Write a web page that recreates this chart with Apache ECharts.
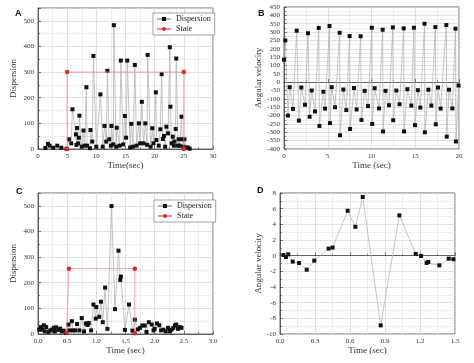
<!DOCTYPE html>
<html><head><meta charset="utf-8">
<script src="https://cdn.jsdelivr.net/npm/echarts@6/dist/echarts.min.js"></script>
<style>html,body{margin:0;padding:0;background:#fff}#c{width:474px;height:363px}</style>
</head><body><div id="c"></div>
<script>
// Panel A: dispersion over time (sec)
const A_time = [1.26,1.7,2.0,2.6,3.3,4.0,4.9,5.3,5.7,5.9,6.5,6.6,6.7,6.9,7.0,7.1,7.5,7.8,8.0,8.3,8.4,8.9,9.0,9.3,9.5,10.0,10.7,11.1,11.4,11.7,11.9,12.2,12.5,12.6,12.9,13.0,13.4,13.5,14.0,14.2,14.6,14.9,15.1,15.3,15.8,16.0,16.3,16.6,16.9,17.3,17.5,17.8,18.1,18.4,18.7,18.8,19.3,19.6,19.8,20.2,20.3,20.7,20.97,21.2,21.4,21.6,21.8,22.0,22.3,22.6,22.7,22.9,23.1,23.3,23.4,23.6,23.7,24.0,24.1,24.3,24.6,24.7,24.9,25.1,25.3,25.7,26.0];
const A_disp = [4,20,13,5,13,5,1,38,22,155,57,16,82,22,44,130,9,72,13,241,13,3,74,29,363,9,213,9,90,29,305,38,13,90,18,483,9,83,13,345,18,129,44,345,6,98,9,328,13,100,22,184,22,100,16,367,9,81,22,221,35,13,77,292,39,51,9,87,61,397,165,22,48,13,29,78,353,13,38,13,126,38,9,38,6,6,1];
const A_stateTime = [5,5,25,25];
const A_state = [0,300,300,0];

// Panel B: angular velocity over time (sec)
const B_time = [0,0.15,0.45,0.65,1.03,1.45,1.7,1.98,2.4,2.74,2.93,3.16,3.54,3.97,4.05,4.5,4.69,5.2,5.25,5.45,5.83,6.36,6.4,6.78,7.12,7.5,7.55,8.0,8.3,8.76,8.85,9.22,9.6,10.04,10.08,10.36,10.86,11.28,11.32,11.6,12.0,12.44,12.48,12.84,13.2,13.68,13.72,14.1,14.55,14.85,14.97,15.3,15.58,16.06,16.1,16.5,16.84,17.3,17.35,17.6,17.9,18.55,18.6,18.86,19.24,19.6,19.65,19.95];
const B_vel = [135,250,-200,-30,-160,308,-230,-32,-135,293,-207,-50,-175,325,-262,-57,-158,336,-245,-30,-150,296,-318,-44,-167,276,-280,-35,-163,275,-226,-52,-143,326,-250,-36,-157,314,-295,-52,-138,328,-228,-50,-132,322,-295,-42,-140,326,-257,-48,-152,350,-300,-45,-140,330,-252,-32,-158,342,-326,-45,-157,320,-355,-20];

// Panel C: dispersion over time (sec)
const C_time = [0.02,0.05,0.07,0.1,0.115,0.14,0.18,0.21,0.24,0.27,0.29,0.31,0.35,0.38,0.41,0.44,0.48,0.52,0.54,0.58,0.6,0.64,0.67,0.71,0.75,0.79,0.82,0.85,0.87,0.91,0.95,0.99,1.0,1.05,1.08,1.11,1.15,1.19,1.26,1.32,1.38,1.41,1.42,1.49,1.56,1.62,1.66,1.71,1.75,1.79,1.83,1.86,1.9,1.95,1.98,2.0,2.04,2.08,2.11,2.15,2.19,2.23,2.26,2.29,2.32,2.35,2.37,2.4,2.43,2.46];
const C_disp = [17,27,17,34,10,27,8,14,17,24,10,26,16,21,10,13,4,37,14,50,14,14,39,14,62,10,41,35,43,14,115,60,105,67,126,46,181,20,499,97,325,211,224,16,115,13,56,18,24,33,33,8,46,37,14,20,41,34,14,17,10,24,10,17,24,33,37,20,27,24];
const C_stateTime = [0.49,0.53,1.66,1.66];
const C_state = [5,255,255,3];

// Panel D: angular velocity over time (sec)
const D_time = [0.029,0.051,0.071,0.109,0.163,0.229,0.294,0.417,0.451,0.58,0.646,0.709,0.863,1.023,1.163,1.209,1.257,1.271,1.366,1.446,1.486];
const D_vel = [0.09,-0.17,0.17,-0.76,-0.93,-1.79,-0.64,0.9,1.03,5.73,3.68,7.49,-8.9,5.14,0.22,-0.04,-0.93,-0.8,-1.23,-0.38,-0.46];

const zip = (xs, ys) => xs.map((x, i) => [x, ys[i]]);
const SERIF = 'Liberation Serif';
const gridLine = {show: true, lineStyle: {color: '#d4d4d4', width: 0.7}};
const minorLine = {show: true, lineStyle: {color: '#e2e2e2', width: 0.6}};
const lbl = (extra) => Object.assign({color: '#333', fontFamily: SERIF, fontSize: 7, margin: 4}, extra || {});
function xAx(idx, max, interval, name, fmt) {
  return {type: 'value', gridIndex: idx, min: 0, max: max, interval: interval,
    name: name, nameLocation: 'middle', nameGap: 12,
    nameTextStyle: {fontFamily: SERIF, fontSize: 9, color: '#333'},
    axisLine: {show: true, lineStyle: {color: '#444', width: 0.8}},
    axisTick: {show: true, inside: true, length: 3, lineStyle: {color: '#444', width: 0.7}},
    minorTick: {show: true, splitNumber: 2, length: 2, lineStyle: {color: '#444', width: 0.6}},
    axisLabel: lbl({formatter: fmt}),
    splitLine: gridLine, minorSplitLine: minorLine};
}
function yAx(idx, min, max, interval, name, gap, minorN) {
  return {type: 'value', gridIndex: idx, min: min, max: max, interval: interval,
    name: name, nameLocation: 'middle', nameGap: gap,
    nameTextStyle: {fontFamily: SERIF, fontSize: 9, color: '#333'},
    axisLine: {show: true, lineStyle: {color: '#444', width: 0.8}},
    axisTick: {show: true, inside: true, length: 3, lineStyle: {color: '#444', width: 0.7}},
    minorTick: {show: true, splitNumber: minorN, length: 2, lineStyle: {color: '#444', width: 0.6}},
    axisLabel: lbl({showMaxLabel: (max % interval === 0)}),
    splitLine: gridLine, minorSplitLine: minorLine};
}
const dispSeries = (xi, data) => ({name: 'Dispersion', type: 'line', xAxisIndex: xi, yAxisIndex: xi,
  data: data, symbol: 'rect', symbolSize: 4, showAllSymbol: true, animation: false,
  itemStyle: {color: '#111'}, lineStyle: {color: '#b5b5b5', width: 0.8}, z: 3});
const stateSeries = (xi, data) => ({name: 'State', type: 'line', xAxisIndex: xi, yAxisIndex: xi,
  data: data, symbol: 'circle', symbolSize: 4.5, animation: false,
  itemStyle: {color: '#e4232b'}, lineStyle: {color: '#f08a8a', width: 0.8}, z: 4});
const legendCfg = (left, top) => ({data: ['Dispersion', 'State'], left: left, top: top, orient: 'vertical',
  itemWidth: 14, itemHeight: 5, itemGap: 2, padding: [2, 4, 2, 3],
  borderColor: '#666', borderWidth: 0.6, backgroundColor: '#fff',
  textStyle: {fontFamily: SERIF, fontSize: 8, color: '#222'}});
const titleCfg = (t, l, tp) => ({text: t, left: l, top: tp,
  textStyle: {fontFamily: 'Liberation Sans', fontWeight: 'bold', fontSize: 9, color: '#111'}});
const gridCfg = (l, t, w, h) => ({left: l, top: t, width: w, height: h, show: true, borderColor: '#444', borderWidth: 0.8});

const chart = echarts.init(document.getElementById('c'), null, {renderer: 'canvas'});
chart.setOption({
  animation: false,
  backgroundColor: '#fff',
  title: [titleCfg('A', 10, 4), titleCfg('B', 253, 4), titleCfg('C', 11, 182), titleCfg('D', 252, 181)],
  legend: [legendCfg(153, 13), legendCfg(154, 200)],
  grid: [gridCfg(38, 8, 175, 141), gridCfg(284, 7, 175, 142), gridCfg(38, 193, 175, 141), gridCfg(280, 193, 175, 141)],
  xAxis: [
    xAx(0, 30, 5, 'Time(sec)'),
    xAx(1, 20, 5, 'Time (sec)'),
    xAx(2, 3, 0.5, 'Time (sec)', v => v.toFixed(1)),
    xAx(3, 1.5, 0.3, 'Time (sec)', v => v.toFixed(1))
  ],
  yAxis: [
    yAx(0, 0, 550, 100, 'Dispersion', 20, 2),
    yAx(1, -400, 450, 50, 'Angular velocity', 20, 2),
    yAx(2, 0, 550, 100, 'Dispersion', 20, 2),
    yAx(3, -10, 8, 2, 'Angular velocity', 16, 2)
  ],
  series: [
    dispSeries(0, zip(A_time, A_disp)),
    stateSeries(0, zip(A_stateTime, A_state)),
    {type: 'line', xAxisIndex: 1, yAxisIndex: 1, data: zip(B_time, B_vel), symbol: 'rect', symbolSize: 4,
      showAllSymbol: true, itemStyle: {color: '#111'}, lineStyle: {color: '#b5b5b5', width: 0.8}},
    dispSeries(2, zip(C_time, C_disp)),
    stateSeries(2, zip(C_stateTime, C_state)),
    {type: 'line', xAxisIndex: 3, yAxisIndex: 3, data: zip(D_time, D_vel), symbol: 'rect', symbolSize: 4,
      showAllSymbol: true, itemStyle: {color: '#111'}, lineStyle: {color: '#b5b5b5', width: 0.8}}
  ]
});
</script></body></html>
